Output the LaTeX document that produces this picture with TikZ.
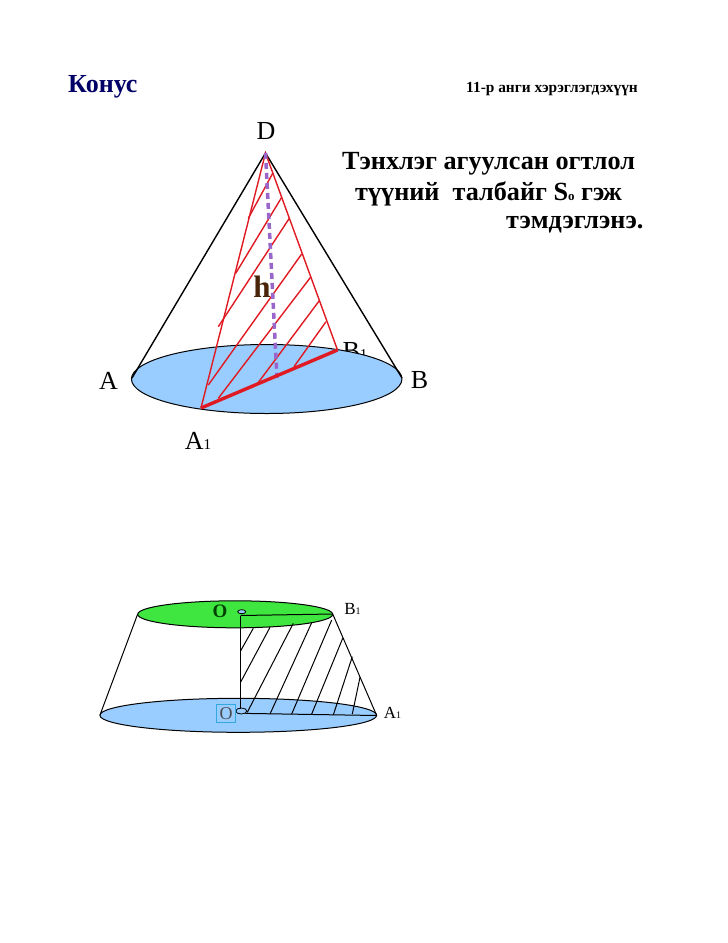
\documentclass[tikz,border=0pt]{standalone}
\usepackage{fontspec}
\usetikzlibrary{shapes.geometric}
\setmainfont{Liberation Serif}
\definecolor{basecolor}{HTML}{99CCFF}
\definecolor{topcolor}{HTML}{3FE63F}
\definecolor{cutcolor}{HTML}{E01A22}
\definecolor{axiscolor}{HTML}{9966CC}
\definecolor{titlecolor}{HTML}{000066}
\definecolor{hcolor}{HTML}{4A2408}
\definecolor{boxcolor}{HTML}{33AADD}
\tikzset{
    point label/.style={inner sep=0,font=\fontsize{26}{26}\selectfont},
    small label/.style={inner sep=0,font=\fontsize{17}{17}\selectfont},
    note line/.style={inner sep=0,anchor=west,font=\fontsize{26.2}{26}\selectfont\bfseries},
    hatch red/.style={draw=cutcolor,line width=1.4pt},
    hatch black/.style={draw=black,line width=1pt}
    }
\newcommand{\lowidx}[1]{{\fontsize{15}{15}\selectfont #1}}

\begin{document}
\begin{tikzpicture}[x=1pt,y=-1pt]
    \useasboundingbox (0,0) rectangle (728,943);
    % Header
    \node(title)[inner sep=0,anchor=west,text=titlecolor,font=\fontsize{26}{26}\selectfont\bfseries] at (68,86.5){Конус};
    \node(grade)[inner sep=0,anchor=west,font=\fontsize{15.4}{16}\selectfont\bfseries] at (466,89){11-р анги хэрэглэгдэхүүн};
    % Note beside the cone
    \node(line1)[note line] at (342,163.5){Тэнхлэг агуулсан огтлол};
    \node(line2)[note line] at (355,194){түүний\ \ талбайг S{\fontsize{13}{13}\selectfont o} гэж};
    \node(line3)[note line] at (506,224.5){тэмдэглэнэ.};
    % The cone
    \node(B1)[point label] at (355,351.5){B\lowidx{1}};
    \node(base)[ellipse,draw=black,fill=basecolor,line width=1pt,minimum width=270.5pt,minimum height=69pt,inner sep=0] at (266.7,379){};
    \coordinate(D) at (265.5,153);
    \coordinate(left) at (132,378);
    \coordinate(right) at (402,378);
    \coordinate(a1) at (201,408);
    \coordinate(b1) at (337.5,350);
    \coordinate(foot) at (277,378);
    \draw[line width=1.4pt] (left) -- (D) -- (right);
    \node(D label)[point label] at (266,131.5){D};
    \node(A)[point label] at (108.5,380.5){A};
    \node(B)[point label] at (419.5,380.5){B};
    \node(A1)[point label] at (198,440.5){A\lowidx{1}};
    % The section
    \draw[hatch red] (a1) -- (D) -- (b1);
    \draw[hatch red] (272.7,173.3) -- (248.3,218.3);
    \draw[hatch red] (281.7,197.3) -- (235.7,273.3);
    \draw[hatch red] (289.3,218.3) -- (218.3,326.7);
    \draw[hatch red] (301.7,254) -- (208.3,385);
    \draw[hatch red] (311,276.7) -- (218.3,398.3);
    \draw[hatch red] (319.3,300.7) -- (257.7,383.3);
    \draw[hatch red] (326,321.7) -- (294,366.7);
    \draw[axiscolor,line width=3.5pt,dash pattern=on 6pt off 4pt] (D) -- (foot);
    \draw[cutcolor,line width=3.4pt] (a1) -- (b1);
    \node(h)[inner sep=0,text=hcolor,font=\fontsize{31}{31}\selectfont\bfseries] at (262,286.5){h};
    % The frustum
    \node(lower)[ellipse,draw=black,fill=basecolor,line width=1pt,minimum width=276.7pt,minimum height=34pt,inner sep=0] at (238.3,715.3){};
    \node(upper)[ellipse,draw=black,fill=topcolor,line width=1pt,minimum width=195pt,minimum height=27pt,inner sep=0] at (235.2,614.3){};
    \coordinate(up left) at (137.7,614);
    \coordinate(up right) at (332.7,614);
    \coordinate(low left) at (100,715);
    \coordinate(low right) at (376.7,715.5);
    \coordinate(axis top) at (240.7,615.5);
    \coordinate(axis low) at (240.7,709);
    \node(top eye)[ellipse,draw=black,fill=basecolor,line width=0.8pt,minimum width=8pt,minimum height=4pt,inner sep=0] at (241.7,611.7){};
    \node(low eye)[ellipse,draw=black,fill=basecolor,line width=0.8pt,minimum width=11pt,minimum height=6pt,inner sep=0] at (241.3,711){};
    \draw[line width=1pt] (up left) -- (low left);
    \draw[line width=1pt] (up right) -- (low right);
    \draw[line width=1pt] (axis top) -- (axis low);
    \draw[line width=1pt] (axis top) -- (up right);
    \draw[line width=1pt] (low eye.south east) -- (low right);
    \draw[hatch black] (253.3,628.3) -- (240.7,650.7);
    \draw[hatch black] (270,627.3) -- (240.7,682);
    \draw[hatch black] (293.3,623.3) -- (247.3,712.3);
    \draw[hatch black] (311.7,622.7) -- (270,714);
    \draw[hatch black] (331.7,620) -- (291.7,714);
    \draw[hatch black] (342.7,638.3) -- (311.7,714);
    \draw[hatch black] (352.3,656.7) -- (333.3,715);
    \draw[hatch black] (360,677.3) -- (352.3,714);
    \node(O top)[inner sep=0,text=black!75!green,font=\fontsize{19}{19}\selectfont\bfseries] at (220,611.5){O};
    \node(O low)[draw=boxcolor,line width=0.8pt,minimum size=18.5pt,inner sep=0,text=black!70,font=\fontsize{18}{18}\selectfont] at (226,713.5){O};
    \node(B1 low)[small label] at (352.5,609){B{\fontsize{10}{10}\selectfont 1}};
    \node(A1 low)[small label] at (392.5,712.5){A{\fontsize{10}{10}\selectfont 1}};
\end{tikzpicture}
\end{document}
